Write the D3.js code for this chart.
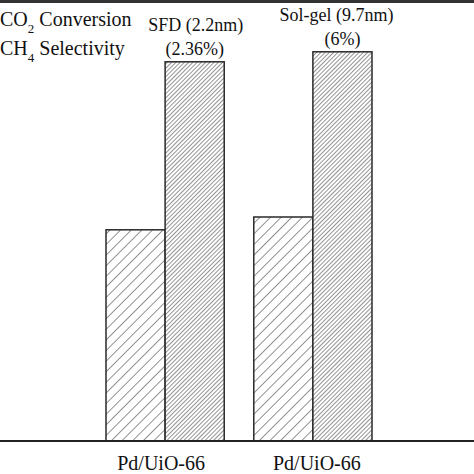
<!DOCTYPE html>
<html>
<head>
<meta charset="utf-8">
<script src="https://cdn.jsdelivr.net/npm/d3@7"></script>
<style>
  body { margin: 0; background: #fff; }
  svg text { font-family: "Liberation Serif", "Times New Roman", serif; fill: #111; }
</style>
</head>
<body>
<svg id="chart"></svg>
<script>
// Chart data (no value axis in the figure, heights read in arbitrary units)
var groups = ["SFD", "Sol-gel"];
var groupLabels = ["Pd/UiO-66", "Pd/UiO-66"];
var series = ["conversion", "selectivity"];
var conversion = [52.8, 56];
var selectivity = [94.8, 97.3];
var noteTop = ["SFD (2.2nm)", "Sol-gel (9.7nm)"];
var noteBottom = ["(2.36%)", "(6%)"];

var width = 474, height = 474;
var baseY = 441;
var serif = "'Liberation Serif', 'Times New Roman', serif";

var svg = d3.select("#chart")
    .attr("width", width)
    .attr("height", height);

// hatch patterns
var defs = svg.append("defs");
function hatch(id, gap) {
  var p = defs.append("pattern")
      .attr("id", id)
      .attr("patternUnits", "userSpaceOnUse")
      .attr("width", gap)
      .attr("height", gap)
      .attr("patternTransform", "rotate(45)");
  p.append("rect").attr("width", gap).attr("height", gap).attr("fill", "#fff");
  p.append("line")
      .attr("x1", 0).attr("y1", 0)
      .attr("x2", 0).attr("y2", gap)
      .attr("stroke", "#3a3a3a")
      .attr("stroke-width", 1.1);
}
hatch("sparse", 7.5);
hatch("dense", 3);

// scales
var x0 = d3.scaleBand().domain(groups).range([106, 372]).paddingInner(0.2).paddingOuter(0);
var x1 = d3.scaleBand().domain(series).range([0, x0.bandwidth()]);
var y = d3.scaleLinear().domain([0, 100]).range([baseY, 41]);

var rows = groups.map(function(g, i) {
  return {group: g, values: [
    {key: "conversion", value: conversion[i]},
    {key: "selectivity", value: selectivity[i]}
  ]};
});

// top border strip
svg.append("rect")
    .attr("x", 0).attr("y", 0)
    .attr("width", width).attr("height", 3)
    .attr("fill", "#333");

// bars
var g = svg.selectAll(".group")
    .data(rows)
  .enter().append("g")
    .attr("class", "group")
    .attr("transform", function(d) { return "translate(" + x0(d.group) + ",0)"; });

g.selectAll("rect")
    .data(function(d) { return d.values; })
  .enter().append("rect")
    .attr("x", function(d) { return x1(d.key); })
    .attr("y", function(d) { return y(d.value); })
    .attr("width", x1.bandwidth())
    .attr("height", function(d) { return baseY - y(d.value); })
    .attr("fill", function(d) { return d.key === "conversion" ? "url(#sparse)" : "url(#dense)"; })
    .attr("stroke", "#2a2a2a")
    .attr("stroke-width", 1.5);

// baseline
svg.append("line")
    .attr("x1", 0).attr("x2", width)
    .attr("y1", baseY).attr("y2", baseY)
    .attr("stroke", "#222")
    .attr("stroke-width", 2);

// category labels
svg.selectAll(".xlabel")
    .data(groups)
  .enter().append("text")
    .attr("class", "xlabel")
    .attr("x", function(d, i) { return x0(d) + x0.bandwidth() / 2 + (i === 0 ? -4 : 4); })
    .attr("y", 470)
    .attr("text-anchor", "middle")
    .attr("font-family", serif)
    .style("font-size", "20px")
    .text(function(d, i) { return groupLabels[i]; });

// notes above selectivity bars
groups.forEach(function(grp, i) {
  var cx = x0(grp) + x1("selectivity") + x1.bandwidth() / 2;
  var top = y(selectivity[i]);
  svg.append("text")
      .attr("x", cx + (i === 0 ? 1 : -6))
      .attr("y", top - 31)
      .attr("text-anchor", "middle")
      .attr("font-family", serif)
      .style("font-size", "18px")
      .text(noteTop[i]);
  svg.append("text")
      .attr("x", cx)
      .attr("y", top - 7)
      .attr("text-anchor", "middle")
      .attr("font-family", serif)
      .style("font-size", "18px")
      .text(noteBottom[i]);
});

// legend text (swatches are cropped off in the figure)
var leg = [["CO", "2", " Conversion", 26], ["CH", "4", " Selectivity", 55]];
leg.forEach(function(l) {
  var t = svg.append("text")
      .attr("x", 0)
      .attr("y", l[3])
      .attr("font-family", serif)
      .style("font-size", "20px");
  t.append("tspan").text(l[0]);
  t.append("tspan").attr("dy", 7).style("font-size", "13px").text(l[1]);
  t.append("tspan").attr("dy", -7).text(l[2]);
});
</script>
</body>
</html>
